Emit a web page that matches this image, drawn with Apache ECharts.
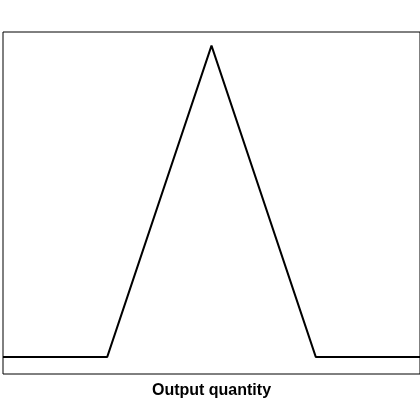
<!DOCTYPE html><html><head><meta charset="utf-8"><script src="https://cdn.jsdelivr.net/npm/echarts@6/dist/echarts.min.js"></script></head><body style="margin:0"><div id="c" style="width:420px;height:420px"></div><script>
var xs=[0,1,2,3,4];
var ys=[0.05,0.05,0.96,0.05,0.05];
var xLabel='Output quantity';
var ch=echarts.init(document.getElementById('c'));
ch.setOption({animation:false,backgroundColor:'#fff',
grid:{left:3,top:32,right:-32,bottom:46,show:true,borderColor:'#000',borderWidth:1,containLabel:false},
xAxis:{type:'value',min:0,max:4,axisLabel:{show:false},axisTick:{show:false},splitLine:{show:false},axisLine:{show:false},
name:xLabel,nameLocation:'middle',nameGap:9,nameTextStyle:{fontFamily:'Liberation Sans',fontWeight:'bold',fontSize:16,color:'#000'}},
yAxis:{type:'value',min:0,max:1,show:false},
series:[{type:'line',data:xs.map((x,i)=>[x,ys[i]]),symbol:'none',lineStyle:{color:'#000',width:2}}]});
</script></body></html>
